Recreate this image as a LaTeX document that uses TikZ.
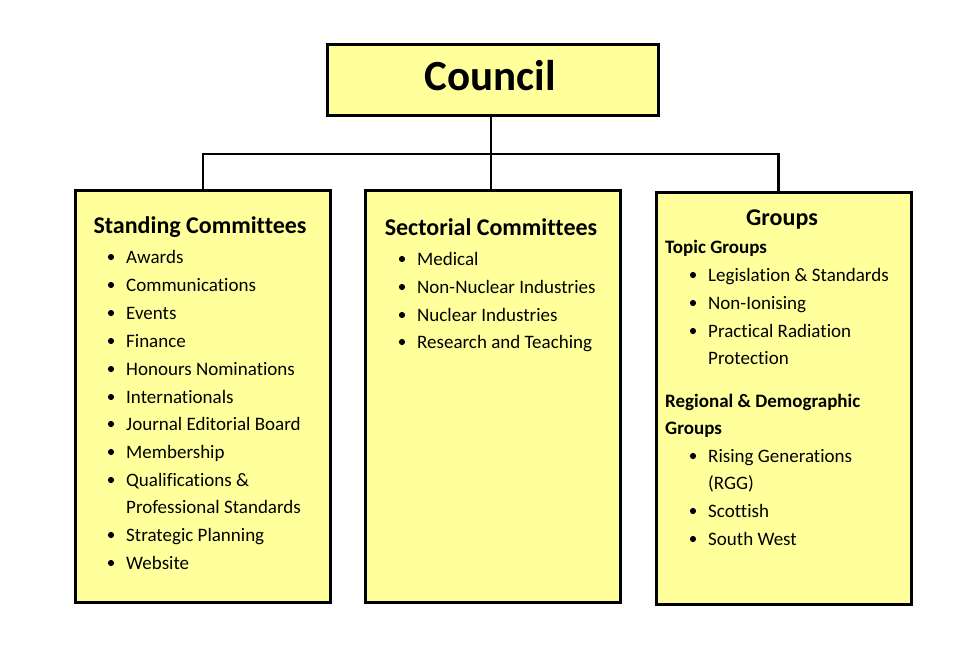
\documentclass[tikz,border=0pt]{standalone}
\usepackage{fontspec}
\setmainfont{Carlito}[Ligatures=NoCommon]
\definecolor{boxfill}{HTML}{FFFF9C}
\tikzset{
  box/.style={draw=black, line width=3pt, fill=boxfill, inner sep=0pt},
  conn/.style={draw=black, line width=2.9pt},
  ttl/.style={font=\fontsize{24}{28}\selectfont\bfseries, inner sep=0pt, anchor=base},
  sub/.style={font=\fontsize{19}{22}\selectfont\bfseries, inner sep=0pt, anchor=base west},
  item/.style={font=\fontsize{19}{22}\selectfont, inner sep=0pt, anchor=base west},
}
\newcommand\bitem[4]{\node[item] (#1) at (#2,#3+6) {#4};\fill ([xshift=-15pt,yshift=6pt]#1.base west) circle[radius=3.1pt];}
\newcommand\pitem[4]{\node[item] (#1) at (#2,#3+6) {#4};}
\begin{document}
\begin{tikzpicture}[x=1pt,y=-1pt]
\useasboundingbox (0,0) rectangle (972,659);
\node[box, anchor=north west, minimum width=331pt, minimum height=71pt] (council) at (326,43) {};
\node[font=\fontsize{43}{48}\selectfont\bfseries, inner sep=0pt, anchor=base] (ctext) at (490.5,90) {Council};
\node[box, anchor=north west, minimum width=255pt, minimum height=412pt] (stand) at (74,189) {};
\node[box, anchor=north west, minimum width=255pt, minimum height=412pt] (sect) at (364,189) {};
\node[box, anchor=north west, minimum width=255pt, minimum height=412pt] (grp) at (655,191) {};
% connectors
\draw[conn] ([xshift=-2pt]council.south) -- ++(0,37) coordinate (j);
\draw[conn] (stand.north) -- (stand.north |- j) -- ([xshift=-5.5pt]grp.north |- j) -- ([xshift=-5.5pt]grp.north);
\draw[conn] (j) -- (j |- sect.north);
% standing
\node[ttl] (st) at (200,233) {Standing Committees};
\bitem{s1}{126}{257}{Awards}
\bitem{s2}{126}{285}{Communications}
\bitem{s3}{126}{313}{Events}
\bitem{s4}{126}{341}{Finance}
\bitem{s5}{126}{369}{Honours Nominations}
\bitem{s6}{126}{397}{Internationals}
\bitem{s7}{126}{424}{Journal Editorial Board}
\bitem{s8}{126}{452}{Membership}
\bitem{s9}{126}{480}{Qualifications \&}
\pitem{s9b}{126}{507}{Professional Standards}
\bitem{s10}{126}{535}{Strategic Planning}
\bitem{s11}{126}{563}{Website}
% sectorial
\node[ttl] (sc) at (491,235) {Sectorial Committees};
\bitem{c1}{417}{259}{Medical}
\bitem{c2}{417}{287}{Non-Nuclear Industries}
\bitem{c3}{417}{315}{Nuclear Industries}
\bitem{c4}{417}{342}{Research and Teaching}
% groups
\node[ttl] (gt) at (782,225) {Groups};
\node[sub] (tg) at (665,253) {Topic Groups};
\bitem{g1}{708}{275}{Legislation \& Standards}
\bitem{g2}{708}{303}{Non-Ionising}
\bitem{g3}{708}{331}{Practical Radiation}
\pitem{g3b}{708}{358}{Protection}
\node[sub] (rg) at (665,407) {Regional \& Demographic};
\node[sub] (rg2) at (665,434) {Groups};
\bitem{g4}{708}{456}{Rising Generations}
\pitem{g4b}{708}{483}{(RGG)}
\bitem{g5}{708}{511}{Scottish}
\bitem{g6}{708}{539}{South West}
\end{tikzpicture}
\end{document}
